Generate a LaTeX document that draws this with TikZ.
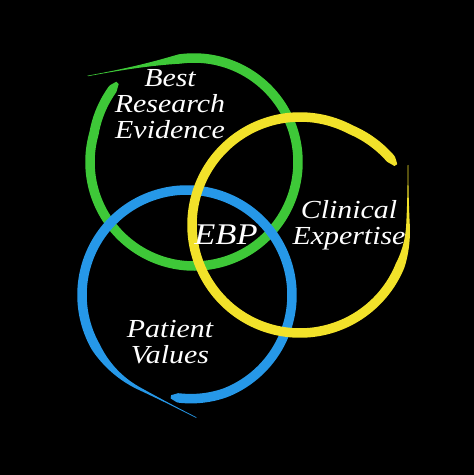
\documentclass[tikz,border=0pt]{standalone}
\usepackage{fontspec}
\setmainfont{Liberation Serif}[FakeStretch=1.15]

\definecolor{ringgreen}{RGB}{62,200,56}
\definecolor{ringyellow}{RGB}{242,226,42}
\definecolor{ringblue}{RGB}{38,152,232}

\tikzset{
  declare function={
    brushR(\t,\r,\ta,\te,\d)=\r/cos(max(0,\ta-\t))+\d*max(0,\t-\te+30)/30;
    brushW(\t,\ts,\tg,\te)=(0.8+8.7*min(1,(\t-\ts)/(\tg-\ts))^2)*min(1,0.35+(\te-\t)/6);
  },
  ringtext/.style={text=white, align=center, font=\itshape\fontsize{26}{26}\selectfont},
}

% colour, cx, cy, r, start, tangent, grown, end, drift
\newcommand\brushring[9]{%
  \fill[#1] plot[domain=#5:#8, samples=300, variable=\t]
      ({#2+(brushR(\t,#4,#6,#8,#9)+brushW(\t,#5,#7,#8)/2)*cos(\t)},
       {#3+(brushR(\t,#4,#6,#8,#9)+brushW(\t,#5,#7,#8)/2)*sin(\t)})
    -- plot[domain=#8:#5, samples=300, variable=\t]
      ({#2+(brushR(\t,#4,#6,#8,#9)-brushW(\t,#5,#7,#8)/2)*cos(\t)},
       {#3+(brushR(\t,#4,#6,#8,#9)-brushW(\t,#5,#7,#8)/2)*sin(\t)})
    -- cycle;}

\begin{document}
\begin{tikzpicture}[x=1pt, y=-1pt]
  \fill[black] (0,0) rectangle (474,475);

  \brushring{ringgreen}{194}{162}{104}{219}{259.5}{262}{586}{6}
  \brushring{ringblue}{187}{295}{105}{85.6}{117}{150}{459}{-2}
  \brushring{ringyellow}{300}{225}{108}{331}{360}{382}{688}{5}

  \node[ringtext] (bre) at (170,104) {Best\\Research\\Evidence};
  \node[ringtext] (ce) at (349,225) {Clinical\\Expertise};
  \node[ringtext] (pv) at (170,342) {Patient\\Values};
  \node[ringtext, font=\itshape\fontsize{30}{30}\selectfont] (ebp) at (226,235) {EBP};
\end{tikzpicture}
\end{document}
